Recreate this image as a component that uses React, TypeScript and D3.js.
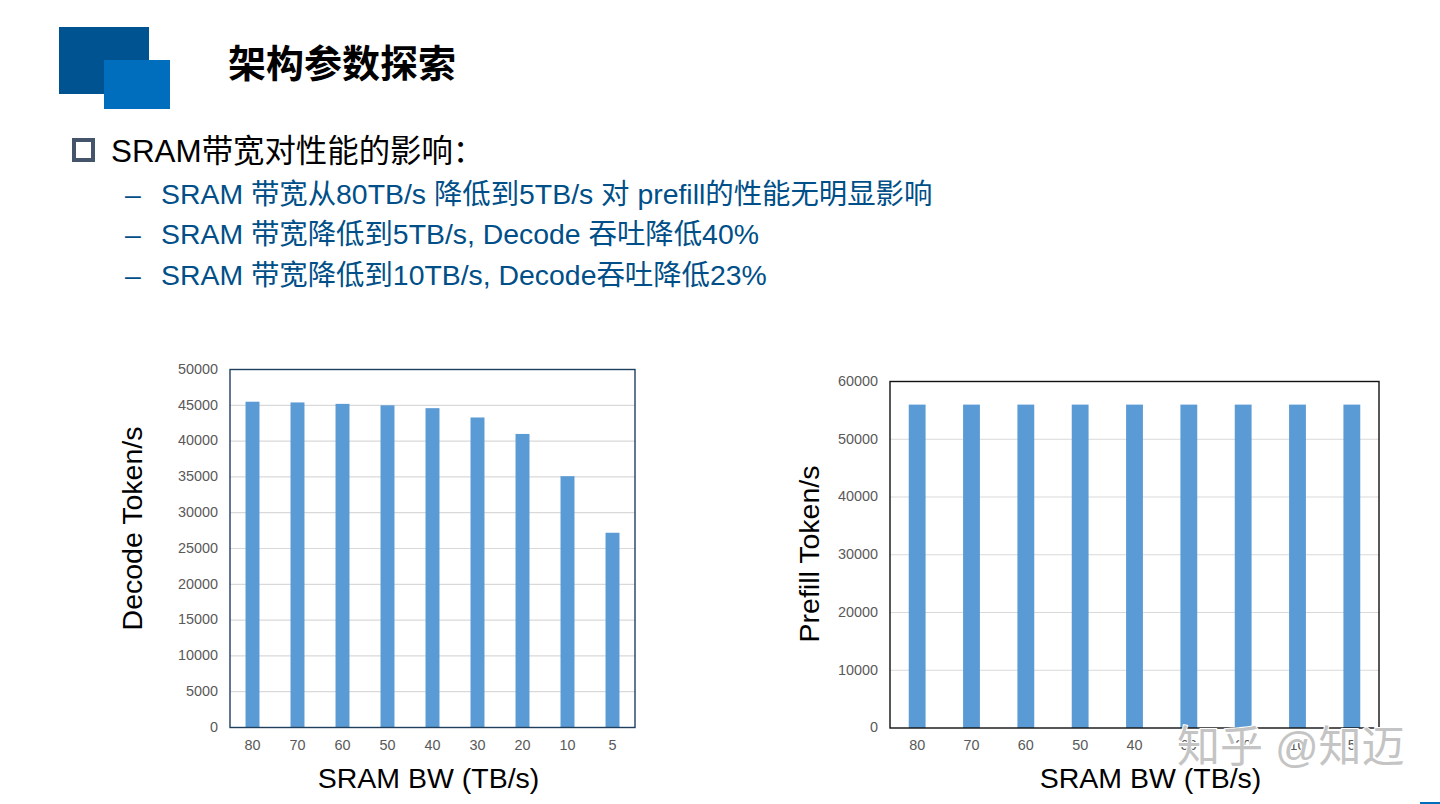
import * as d3 from "d3";

const bwLabels = ["80", "70", "60", "50", "40", "30", "20", "10", "5"];
const decodeValues = [45500, 45400, 45200, 45000, 44600, 43300, 41000, 35100, 27200];
const prefillValues = [56000, 56000, 56000, 56000, 56000, 56000, 56000, 56000, 56000];
const decodeTicks = [0, 5000, 10000, 15000, 20000, 25000, 30000, 35000, 40000, 45000, 50000];
const prefillTicks = [0, 10000, 20000, 30000, 40000, 50000, 60000];
const bullets = [
  "SRAM 带宽从80TB/s 降低到5TB/s 对 prefill的性能无明显影响",
  "SRAM 带宽降低到5TB/s, Decode 吞吐降低40%",
  "SRAM 带宽降低到10TB/s, Decode吞吐降低23%",
];

const FONT = "'Liberation Sans', 'Noto Sans CJK SC', sans-serif";
const bulletY = [204, 244, 285];

interface BarPanelProps {
  left: number;
  right: number;
  top: number;
  bottom: number;
  values: number[];
  ticks: number[];
  yLabel: string;
  yLabelX: number;
  yLabelY: number;
  xLabelX: number;
  border: string;
}

function BarPanel({ left, right, top, bottom, values, ticks, yLabel, yLabelX, yLabelY, xLabelX, border }: BarPanelProps) {
  const x = d3.scaleBand<string>().domain(bwLabels).range([left, right]).paddingInner(0.69).paddingOuter(0.345);
  const y = d3.scaleLinear().domain([0, ticks[ticks.length - 1]]).range([bottom, top]);

  return (
    <g>
      {ticks.slice(1, -1).map((t) => (
        <line key={t} x1={left} x2={right} y1={y(t)} y2={y(t)} stroke="#d9d9d9" strokeWidth={1.2} />
      ))}
      {values.map((v, i) => (
        <rect
          key={i}
          x={x(bwLabels[i])}
          y={y(v)}
          width={x.bandwidth()}
          height={bottom - y(v)}
          fill="#5b9bd5"
        />
      ))}
      <rect x={left} y={top} width={right - left} height={bottom - top} fill="none" stroke={border} strokeWidth={1.4} />
      {ticks.map((t) => (
        <text key={t} x={left - 12} y={y(t)} dy="0.3em" textAnchor="end" fontSize={14.4} fill="#595959">
          {t}
        </text>
      ))}
      {bwLabels.map((l) => (
        <text key={l} x={x(l)! + x.bandwidth() / 2} y={bottom + 22} textAnchor="middle" fontSize={14.4} fill="#595959">
          {l}
        </text>
      ))}
      <text
        transform={`translate(${yLabelX},${yLabelY}) rotate(-90)`}
        textAnchor="middle"
        fontSize={28.5}
        fill="#000"
      >
        {yLabel}
      </text>
      <text x={xLabelX} y={788} textAnchor="middle" fontSize={28.5} fill="#000">
        SRAM BW (TB/s)
      </text>
    </g>
  );
}

export default function App() {
  return (
    <svg
      width={1440}
      height={804}
      viewBox="0 0 1440 804"
      style={{ position: "absolute", left: 0, top: 0, background: "#fff", fontFamily: FONT }}
    >
      <rect x={59} y={27} width={90} height={67} fill="#005391" />
      <rect x={104} y={60} width={66} height={49} fill="#006ebd" />
      <text x={228} y={77} fontSize={38} fontWeight={700} fill="#000">架构参数探索</text>

      <rect x={74} y={140} width={19} height={20} fill="none" stroke="#44546a" strokeWidth={4} />
      <text x={111} y={162} fontSize={31.4} fill="#000">SRAM带宽对性能的影响：</text>

      {bullets.map((b, i) => (
        <g key={i}>
          <text x={125} y={bulletY[i]} fontSize={28.4} fill="#004f88">–</text>
          <text x={161} y={bulletY[i]} fontSize={28.4} fill="#004f88">{b}</text>
        </g>
      ))}

      <BarPanel
        left={230}
        right={635}
        top={369.5}
        bottom={727.5}
        values={decodeValues}
        ticks={decodeTicks}
        yLabel="Decode Token/s"
        yLabelX={142}
        yLabelY={528.5}
        xLabelX={428.5}
        border="#1f3f5f"
      />
      <BarPanel
        left={890}
        right={1379}
        top={381.5}
        bottom={728}
        values={prefillValues}
        ticks={prefillTicks}
        yLabel="Prefill Token/s"
        yLabelX={819}
        yLabelY={554}
        xLabelX={1150.5}
        border="#111"
      />

      <text
        x={1177}
        y={762}
        fontSize={43}
        fill="#c4c4c4"
        stroke="#fff"
        strokeWidth={2}
        style={{ paintOrder: "stroke" }}
      >
        知乎 @知迈
      </text>

      <rect x={1420} y={802} width={20} height={2} fill="#006ebd" />
    </svg>
  );
}
